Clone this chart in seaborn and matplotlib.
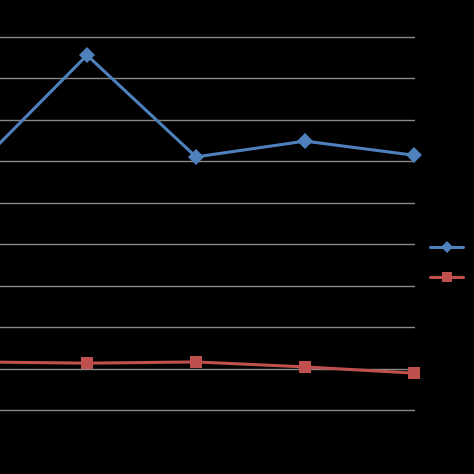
import seaborn as sns
import pandas as pd
import matplotlib.pyplot as plt
from matplotlib.lines import Line2D

positions = [0, 1, 2, 3, 4]
blue_values = [6.90, 9.55, 7.10, 7.48, 7.14]
red_values = [2.16, 2.13, 2.16, 2.04, 1.89]

df = pd.DataFrame({'x': positions * 2,
                   'value': blue_values + red_values,
                   'series': ['a'] * 5 + ['b'] * 5})

sns.set_theme(style='dark')
fig = plt.figure(figsize=(4.74, 4.74), dpi=100, facecolor='black')
ax = fig.add_axes([0, 0, 415 / 474, 1])
ax.set_facecolor('black')

palette = {'a': '#4f81bd', 'b': '#c0504d'}
sns.lineplot(data=df, x='x', y='value', hue='series', style='series',
             markers={'a': 'D', 'b': 's'}, dashes=False, palette=palette,
             linewidth=2.2, markersize=8, markeredgewidth=0, legend=False, ax=ax)
for line in ax.lines:
    line.set_clip_on(False)

ax.set_xlim(0.2018, 4.009)
ax.set_ylim(-0.54, 10.88)
ax.set_yticks(range(1, 11))
ax.yaxis.grid(True, color='#888888', linewidth=1)
ax.xaxis.grid(False)
ax.set_xticks([])
ax.tick_params(left=False, labelleft=False)
ax.set_xlabel('')
ax.set_ylabel('')
for s in ax.spines.values():
    s.set_visible(False)

handles = [Line2D([], [], color='#4f81bd', marker='D', markersize=6, linewidth=2.2, markeredgewidth=0),
           Line2D([], [], color='#c0504d', marker='s', markersize=7, linewidth=2.2, markeredgewidth=0)]
fig.legend(handles, [' ', ' '], loc='center', bbox_to_anchor=(449 / 474, 1 - 263 / 474),
           frameon=False, handlelength=2.2, labelspacing=1.0, handletextpad=0)

fig.savefig('out.png', dpi=100, facecolor='black')
